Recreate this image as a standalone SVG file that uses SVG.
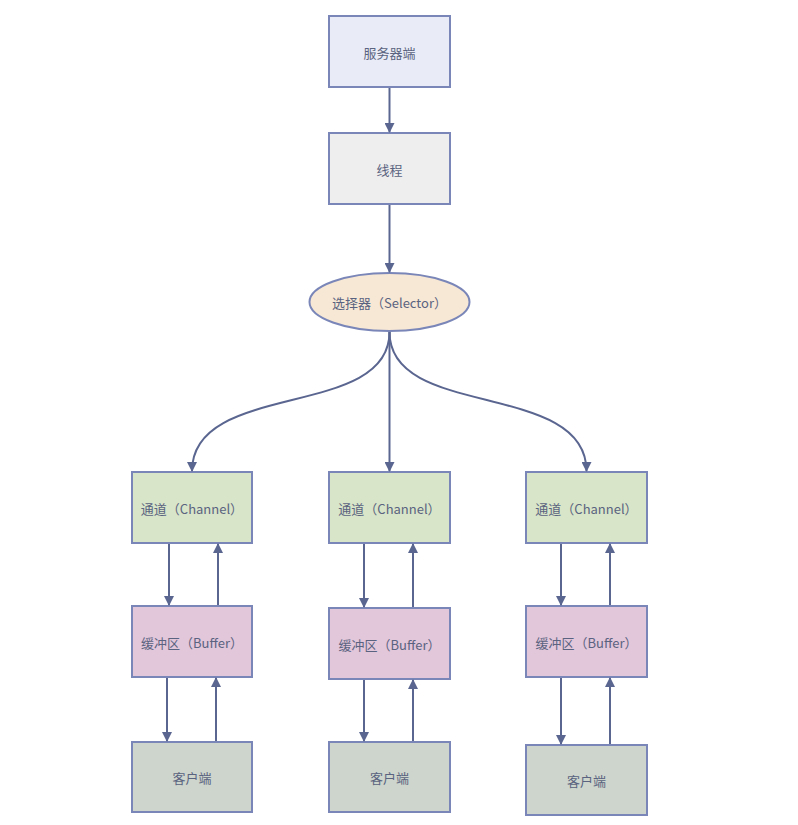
<svg xmlns="http://www.w3.org/2000/svg" width="798" height="825" viewBox="0 0 798 825">
<style>
.b{stroke:#7a86b8;stroke-width:2}
.t{font-family:"Noto Sans CJK SC","Liberation Sans",sans-serif;font-size:13px;fill:#5a6380;text-anchor:middle;dominant-baseline:central}
.c path{fill:none;stroke:#5b6690;stroke-width:2;marker-end:url(#a)}
</style>
<defs><marker id="a" viewBox="0 0 10 10" refX="9" refY="5" markerWidth="5" markerHeight="5" orient="auto"><path d="M0,0L10,5L0,10z" fill="#5b6690"/></marker></defs>
<rect width="798" height="825" fill="#fff"/>
<g id="server"><rect class="b" x="329" y="16" width="121" height="71" fill="#e9ecf6"/><text class="t" x="389.5" y="52">服务器端</text></g>
<g id="thread"><rect class="b" x="329" y="133" width="121" height="71" fill="#eeeeee"/><text class="t" x="389.5" y="169">线程</text></g>
<g id="selector"><ellipse class="b" cx="389.5" cy="302" rx="80" ry="29" fill="#f7e8d5"/><text class="t" x="389.5" y="302">选择器（Selector）</text></g>
<g id="ch1"><rect class="b" x="132" y="472" width="120" height="71" fill="#d8e5c8"/><text class="t" x="192" y="508">通道（Channel）</text></g>
<g id="ch2"><rect class="b" x="329" y="472" width="121" height="71" fill="#d8e5c8"/><text class="t" x="389.5" y="508">通道（Channel）</text></g>
<g id="ch3"><rect class="b" x="526" y="472" width="121" height="71" fill="#d8e5c8"/><text class="t" x="586.5" y="508">通道（Channel）</text></g>
<g id="bf1"><rect class="b" x="132" y="606" width="120" height="71" fill="#e2c6da"/><text class="t" x="192" y="642">缓冲区（Buffer）</text></g>
<g id="bf2"><rect class="b" x="329" y="608" width="121" height="71" fill="#e2c6da"/><text class="t" x="389.5" y="644">缓冲区（Buffer）</text></g>
<g id="bf3"><rect class="b" x="526" y="606" width="121" height="71" fill="#e2c6da"/><text class="t" x="586.5" y="642">缓冲区（Buffer）</text></g>
<g id="cl1"><rect class="b" x="132" y="742" width="120" height="70" fill="#cdd5cc"/><text class="t" x="192" y="777">客户端</text></g>
<g id="cl2"><rect class="b" x="329" y="742" width="121" height="70" fill="#cdd5cc"/><text class="t" x="389.5" y="777">客户端</text></g>
<g id="cl3"><rect class="b" x="526" y="745" width="121" height="70" fill="#cdd5cc"/><text class="t" x="586.5" y="780">客户端</text></g>
<g class="c" id="connectors">
<path d="M389.5,88V132"/>
<path d="M389.5,205V272"/>
<path d="M389.5,332C389.5,420 192,380 192,471"/>
<path d="M389.5,332V471"/>
<path d="M389.5,332C389.5,420 586.5,380 586.5,471"/>
<path d="M169,544V605"/><path d="M218,605V544"/>
<path d="M364,544V607"/><path d="M413,607V544"/>
<path d="M561,544V605"/><path d="M610,605V544"/>
<path d="M167,678V741"/><path d="M216,741V678"/>
<path d="M364,680V741"/><path d="M413,741V680"/>
<path d="M561,678V744"/><path d="M610,744V678"/>
</g>
</svg>
